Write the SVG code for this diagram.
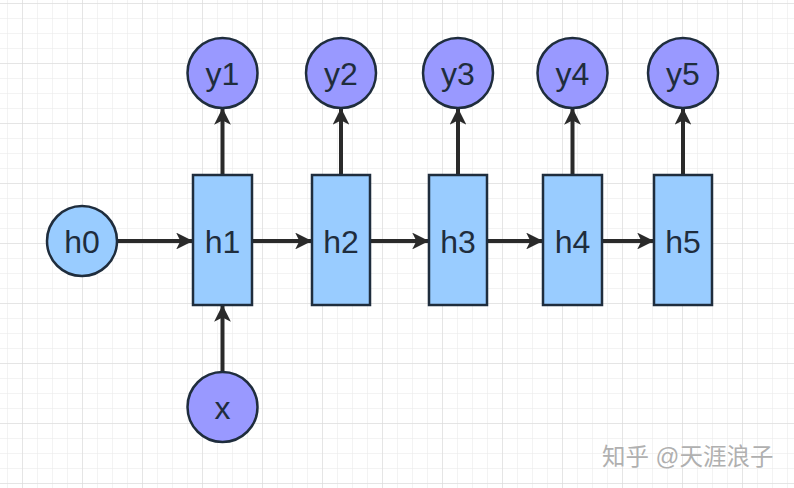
<svg xmlns="http://www.w3.org/2000/svg" width="794" height="488" viewBox="0 0 794 488">
<defs>
<pattern id="minor" x="7" y="3" width="15" height="15" patternUnits="userSpaceOnUse">
<path d="M0 0H15M0 0V15" fill="none" stroke="#e8e8e8" stroke-width="1"/>
</pattern>
<pattern id="major" x="22" y="3" width="60" height="60" patternUnits="userSpaceOnUse">
<path d="M0 0H60M0 0V60" fill="none" stroke="#d8d8d8" stroke-width="1"/>
</pattern>
<marker id="arr" viewBox="0 0 10 10" refX="10" refY="5" markerWidth="4.2" markerHeight="4.2" orient="auto" markerUnits="strokeWidth">
<path d="M0 0L10 5L0 10L2.5 5Z" fill="#2a2a2a"/>
</marker>
<style>
.c{stroke:#1f2d3d;stroke-width:2.5}
.hc{fill:#99ccff}
.yc{fill:#9999ff}
.r{fill:#99ccff;stroke:#1f2d3d;stroke-width:2.5}
.t{font-family:"Liberation Sans",Arial,sans-serif;font-size:32px;fill:#1f2d3d;text-anchor:middle}
.e{stroke:#2a2a2a;stroke-width:4;fill:none;marker-end:url(#arr)}
.w{font-family:"Liberation Sans","Noto Sans CJK SC",sans-serif;font-size:23.5px;fill:#b0b0b0;stroke:#ffffff;stroke-width:0.6;paint-order:stroke}
</style>
</defs>
<rect width="794" height="488" fill="#ffffff"/>
<rect width="794" height="488" fill="url(#minor)"/>
<rect width="794" height="488" fill="url(#major)"/>
<g id="connectors">
<path class="e" d="M117 241H193"/>
<path class="e" d="M252 241H312"/>
<path class="e" d="M370 241H429"/>
<path class="e" d="M487 241H543"/>
<path class="e" d="M602 241H654"/>
<path class="e" d="M222.5 175V108"/>
<path class="e" d="M341 175V108"/>
<path class="e" d="M458 175V108"/>
<path class="e" d="M572.5 175V108"/>
<path class="e" d="M683 175V108"/>
<path class="e" d="M222.5 372V305"/>
</g>
<g id="h0"><circle class="c hc" cx="82" cy="241" r="35"/><text class="t" x="82" y="253">h0</text></g>
<g id="h1"><rect class="r" x="193" y="175" width="59" height="130"/><text class="t" x="222.5" y="253">h1</text></g>
<g id="h2"><rect class="r" x="312" y="175" width="58" height="130"/><text class="t" x="341" y="253">h2</text></g>
<g id="h3"><rect class="r" x="429" y="175" width="58" height="130"/><text class="t" x="458" y="253">h3</text></g>
<g id="h4"><rect class="r" x="543" y="175" width="59" height="130"/><text class="t" x="572.5" y="253">h4</text></g>
<g id="h5"><rect class="r" x="654" y="175" width="58" height="130"/><text class="t" x="683" y="253">h5</text></g>
<g id="y1"><circle class="c yc" cx="222.5" cy="73" r="35"/><text class="t" x="222.5" y="85">y1</text></g>
<g id="y2"><circle class="c yc" cx="341" cy="73" r="35"/><text class="t" x="341" y="85">y2</text></g>
<g id="y3"><circle class="c yc" cx="458" cy="73" r="35"/><text class="t" x="458" y="85">y3</text></g>
<g id="y4"><circle class="c yc" cx="572.5" cy="73" r="35"/><text class="t" x="572.5" y="85">y4</text></g>
<g id="y5"><circle class="c yc" cx="683" cy="73" r="35"/><text class="t" x="683" y="85">y5</text></g>
<g id="x"><circle class="c yc" cx="222.5" cy="407" r="35"/><text class="t" x="222.5" y="419">x</text></g>
<text class="w" x="602" y="465">知乎 @天涯浪子</text>
</svg>
